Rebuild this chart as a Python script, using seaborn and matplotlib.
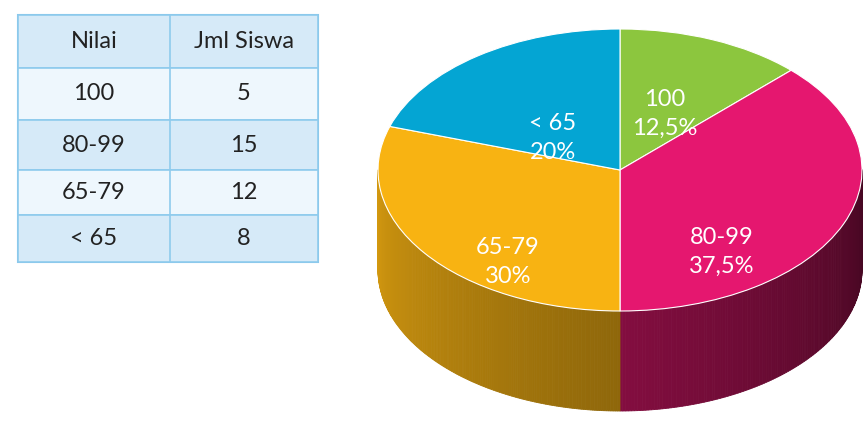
import numpy as np
import matplotlib
matplotlib.use("Agg")
import matplotlib.pyplot as plt
import seaborn as sns
from matplotlib.transforms import Affine2D
from matplotlib.patches import Rectangle, Polygon

sns.set_theme(style="white")
plt.rcParams['font.family'] = ['Lato', 'DejaVu Sans']

categories = ["100", "80-99", "65-79", "< 65"]
students = [5, 15, 12, 8]
pct_labels = ["12,5%", "37,5%", "30%", "20%"]
colors = ["#8cc63e", "#e5176f", "#f8b312", "#04a5d3"]
label_pos = [(665, 114), (722, 252), (508, 262), (553, 138)]  # pixel text anchors

W, H = 863, 434
fig = plt.figure(figsize=(W/100, H/100), dpi=100)
ax = fig.add_axes([0, 0, 1, 1])
ax.set_xlim(0, W); ax.set_ylim(H, 0); ax.axis("off")

# ---- 3D pie ----
cx, cy, rx, ry, depth = 620, 170, 242, 141, 100
fr = np.array(students) / sum(students)
starts = 90 - 360*np.concatenate([[0], np.cumsum(fr)[:-1]])
ends = starts - 360*fr
def pt(a, dz=0):
    return cx + rx*np.cos(np.radians(a)), cy - ry*np.sin(np.radians(a)) + dz
for s, e, c in zip(starts, ends, colors):
    base = np.array(matplotlib.colors.to_rgb(c))
    angs = np.linspace(s, e, 200)
    for a0, a1 in zip(angs[:-1], angs[1:]):
        am = (a0+a1)/2 % 360
        if not (180 <= am <= 360):
            continue
        t = (am-180)/180
        f = 0.85 - 0.55*t
        poly = [pt(a0), pt(a1), pt(a1, depth), pt(a0, depth)]
        ax.add_patch(Polygon(poly, closed=True, color=np.clip(base*f, 0, 1), lw=0.6))
wedges, _ = ax.pie(students, colors=colors, startangle=90, counterclock=False,
                   radius=1, wedgeprops=dict(linewidth=0.8, edgecolor="white"))
tr = Affine2D().scale(rx, -ry).translate(cx, cy) + ax.transData
for w in wedges:
    w.set_transform(tr)
ax.set_xlim(0, W); ax.set_ylim(H, 0); ax.set_aspect("auto")
for cat, p, (x, y) in zip(categories, pct_labels, label_pos):
    ax.text(x, y, f"{cat}\n{p}", color="white", fontsize=17, ha="center", va="center", linespacing=1.5)

# ---- table ----
x0, x1, x2 = 18, 170, 318
y_edges = [15, 68, 120, 170, 215, 262]
ax.add_patch(Rectangle((x0, y_edges[0]), x2-x0, y_edges[-1]-y_edges[0], fc="#e3f1fb", ec="#7fc4ea", lw=1.5))
for i in range(5):
    fc = "#d6eaf8" if i % 2 == 0 else "#eef7fd"
    ax.add_patch(Rectangle((x0, y_edges[i]), x2-x0, y_edges[i+1]-y_edges[i], fc=fc, ec="#8fcbed", lw=1.2))
ax.plot([x1, x1], [y_edges[0], y_edges[-1]], color="#8fcbed", lw=1.2)
rows = [("Nilai", "Jml Siswa")] + [(c, str(v)) for c, v in zip(categories, students)]
for i, (a, b) in enumerate(rows):
    ym = (y_edges[i]+y_edges[i+1])/2
    ax.text((x0+x1)/2, ym, a, ha="center", va="center", fontsize=17, color="#222222")
    ax.text((x1+x2)/2, ym, b, ha="center", va="center", fontsize=17, color="#222222")

fig.savefig("out.png", dpi=100)
